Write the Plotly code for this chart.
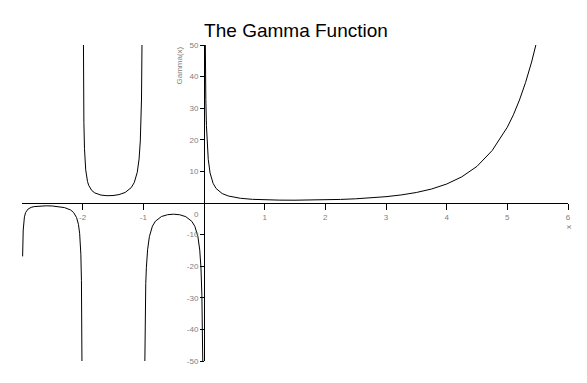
import plotly.graph_objects as go

# Values (branches of Gamma(x) between poles)
x_a = [-2.99, -2.98, -2.96, -2.94, -2.9, -2.85, -2.8, -2.7, -2.6, -2.5, -2.4, -2.3,
       -2.2, -2.15, -2.1, -2.07, -2.05, -2.03, -2.02, -2.01, -2.008]
y_a = [-16.9, -8.55, -4.39, -3.01, -1.92, -1.39, -1.14, -0.93, -0.89, -0.95, -1.11, -1.45,
       -2.2, -3.0, -4.63, -6.74, -9.58, -16.2, -24.6, -49.6, -62.0]

x_b = [-1.993, -1.99, -1.985, -1.98, -1.97, -1.95, -1.92, -1.9, -1.85, -1.8, -1.7, -1.6,
       -1.5, -1.4, -1.3, -1.2, -1.15, -1.1, -1.07, -1.05, -1.03, -1.02, -1.015]
y_b = [71.9, 50.5, 33.8, 25.5, 17.2, 10.5, 6.8, 5.56, 3.96, 3.19, 2.51, 2.31,
       2.36, 2.66, 3.33, 4.85, 6.45, 9.72, 13.95, 19.65, 32.9, 49.6, 66.3]

x_c = [-0.985, -0.98, -0.97, -0.96, -0.95, -0.93, -0.9, -0.85, -0.8, -0.7, -0.6, -0.5,
       -0.4, -0.3, -0.2, -0.15, -0.1, -0.07, -0.05, -0.035, -0.02]
y_c = [-67.1, -50.5, -33.8, -25.5, -20.5, -14.8, -10.6, -7.32, -5.74, -4.27, -3.70, -3.54,
       -3.72, -4.33, -5.82, -7.42, -10.7, -14.9, -20.6, -29.2, -50.6]

x_d = [0.015, 0.02, 0.03, 0.04, 0.05, 0.07, 0.1, 0.15, 0.2, 0.3, 0.4, 0.5, 0.6, 0.8,
       1.0, 1.25, 1.5, 1.75, 2.0, 2.25, 2.5, 2.75, 3.0, 3.25, 3.5, 3.75, 4.0, 4.25,
       4.5, 4.75, 5.0, 5.1, 5.2, 5.3, 5.4, 5.5]
y_d = [66.1, 49.4, 32.8, 24.5, 19.5, 13.8, 9.51, 6.22, 4.59, 2.99, 2.22, 1.77, 1.49, 1.16,
       1.0, 0.906, 0.886, 0.919, 1.0, 1.13, 1.33, 1.61, 2.0, 2.55, 3.32, 4.42, 6.0, 8.29,
       11.6, 16.6, 24.0, 27.9, 32.6, 38.1, 44.6, 52.3]

x_ticks = [-2, -1, 1, 2, 3, 4, 5, 6]
y_ticks = [-50, -40, -30, -20, -10, 10, 20, 30, 40, 50]

fig = go.Figure()
for xs, ys in [(x_a, y_a), (x_b, y_b), (x_c, y_c), (x_d, y_d)]:
    fig.add_trace(go.Scatter(x=xs, y=ys, mode="lines",
                             line=dict(color="black", width=1), showlegend=False,
                             hoverinfo="skip"))

tick_font = dict(family="Liberation Sans, Arial, sans-serif", size=8, color="#808080")

# page body adds an 8px offset, so the figure is 8px smaller and shifted
fig.update_layout(
    width=579, height=375,
    margin=dict(l=14, r=19, t=37, b=22, autoexpand=False),
    paper_bgcolor="white", plot_bgcolor="white",
    title=dict(text="The Gamma Function", x=0.4974, xanchor="center", y=0.9413,
               yanchor="middle",
               font=dict(family="Liberation Sans, Arial, sans-serif", size=19,
                         color="black")),
    xaxis=dict(range=[-3, 6], anchor="free", position=0.5, showline=True,
               linecolor="black", linewidth=1, showgrid=False, zeroline=False,
               ticks="outside", ticklen=6, tickcolor="black", tickwidth=1,
               tickvals=x_ticks, ticktext=[str(v) for v in x_ticks],
               tickfont=tick_font, fixedrange=True, automargin=False),
    yaxis=dict(range=[-50, 50], anchor="free", position=1/3, showline=True,
               linecolor="black", linewidth=1, showgrid=False, zeroline=False,
               ticks="outside", ticklen=4, tickcolor="black", tickwidth=1,
               tickvals=y_ticks, ticktext=[str(v) for v in y_ticks],
               tickfont=tick_font, fixedrange=True, automargin=False),
    annotations=[
        dict(text="0", xref="x", x=0, yref="y", y=0, xanchor="right", yanchor="top",
             xshift=-3, yshift=-5, showarrow=False, font=tick_font),
        dict(text="Gamma(x)", xref="x", x=0, yref="paper", y=1, xanchor="right",
             yanchor="top", xshift=-19, textangle=-90, showarrow=False, font=tick_font),
        dict(text="x", xref="x", x=6, yref="y", y=0, xanchor="center", yanchor="top",
             yshift=-20, textangle=-90, showarrow=False, font=tick_font),
    ],
)

fig.write_html("out.html")
